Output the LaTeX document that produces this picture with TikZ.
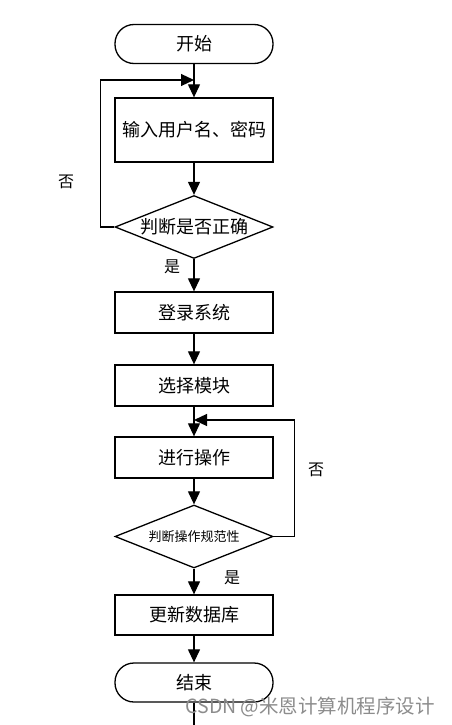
\documentclass[tikz,border=0pt]{standalone}
\usepackage{fontspec}
\setmainfont{Noto Sans CJK SC}
\usetikzlibrary{shapes.geometric,arrows.meta}

\tikzset{
  boite/.style={draw,line width=1.3pt,minimum width=158pt,inner sep=0pt,font=\fontsize{18}{21}\selectfont},
  debut/.style={boite,rounded corners=19pt,minimum height=39pt},
  losange/.style={boite,diamond,aspect=2.5,minimum height=63pt},
  fleche/.style={line width=1.2pt,-{Triangle[length=13pt,width=12pt]}},
  trait/.style={line width=1.2pt},
  etiq/.style={font=\fontsize{16}{19}\selectfont}
}

\begin{document}
\begin{tikzpicture}[x=1pt,y=-1pt]
\useasboundingbox (0,0) rectangle (451,725);
\def\cx{194}

% les blocs
\node[debut] (start) at (\cx,44) {开始};
\node[boite,minimum height=64pt] (saisie) at (\cx,130) {输入用户名、密码};
\node[losange] (verif) at (\cx,227) {判断是否正确};
\node[boite,minimum height=41pt] (login) at (\cx,312.5) {登录系统};
\node[boite,minimum height=41pt] (choix) at (\cx,385.5) {选择模块};
\node[boite,minimum height=41pt] (oper) at (\cx,457.5) {进行操作};
\node[losange,font=\fontsize{13}{15}\selectfont] (norme) at (\cx,536.5) {判断操作规范性};
\node[boite,minimum height=40pt] (maj) at (\cx,615) {更新数据库};
\node[debut] (fin) at (\cx,682.5) {结束};

% points des boucles
\coordinate (retour1) at (\cx,80);
\coordinate (retour2) at (\cx,420);
\coordinate (bas) at (\cx,725);

% fleches principales
\draw[fleche] (start) -- (saisie);
\draw[fleche] (saisie) -- (verif);
\draw[fleche] (verif) -- (login);
\draw[fleche] (login) -- (choix);
\draw[fleche] (choix) -- (oper);
\draw[fleche] (oper) -- (norme);
\draw[fleche] (norme) -- (maj);
\draw[fleche] (maj) -- (fin);
\draw[trait] (fin) -- (bas);

% boucles du non
\draw[fleche] (verif.west) -- ++(-14,0) |- (retour1);
\draw[fleche] (norme.east) -- ++(21,0) |- (retour2);

% labels
\node[etiq] (oui1) at (172,267) {是};
\node[etiq] (non1) at (66,182) {否};
\node[etiq] (non2) at (316,470) {否};
\node[etiq] (oui2) at (232,578) {是};
\node[text=black!45,font=\fontsize{19.5}{22}\selectfont,anchor=west] (mark) at (182,707) {CSDN @米恩计算机程序设计};
\end{tikzpicture}
\end{document}
